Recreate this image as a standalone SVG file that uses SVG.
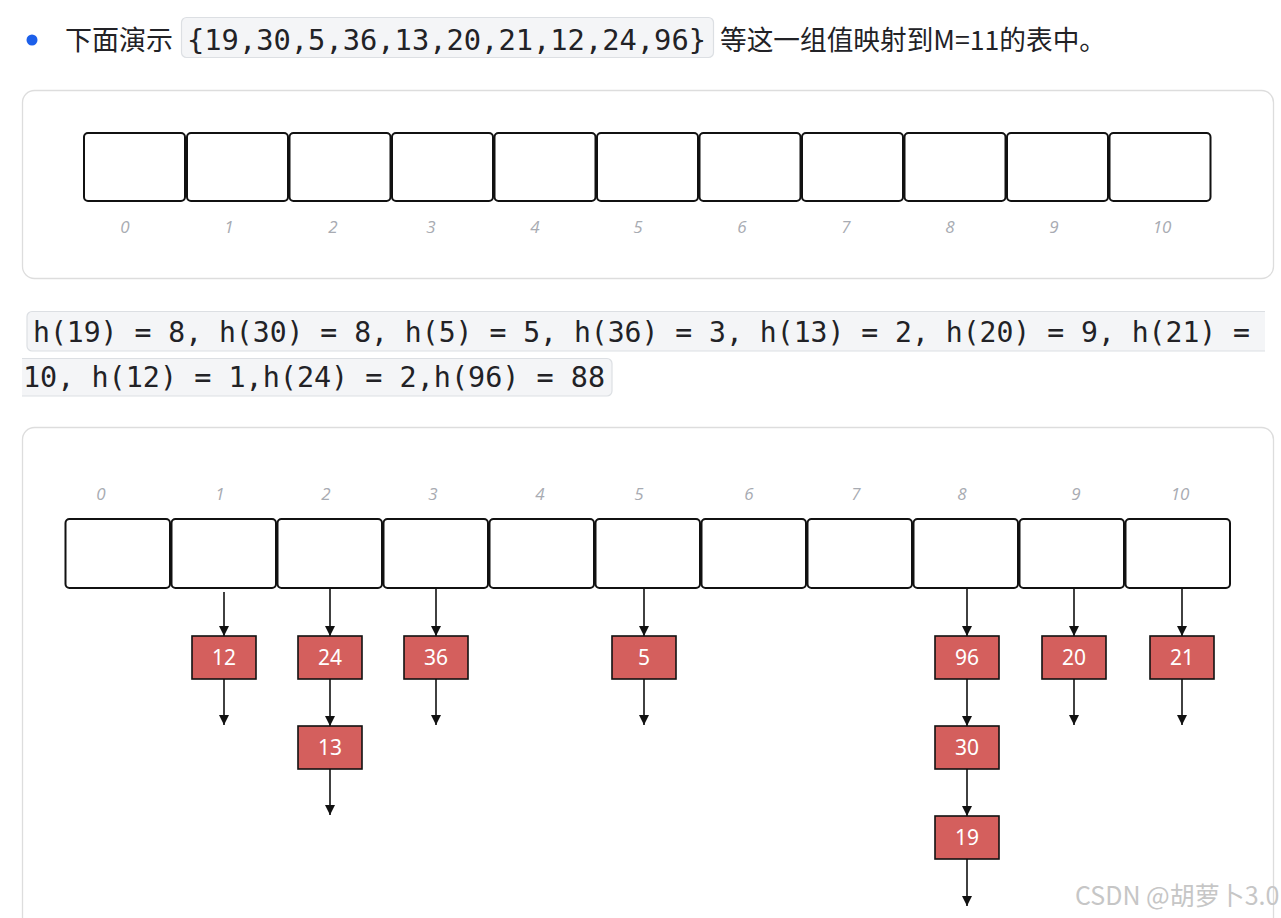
<svg xmlns="http://www.w3.org/2000/svg" width="1281" height="918" viewBox="0 0 1281 918">
<defs>
<style>
.cjk{font-family:"Noto Sans CJK SC","Noto Sans",sans-serif;font-size:27px;fill:#222226}
.mono{font-family:"DejaVu Sans Mono","Liberation Mono",monospace;font-size:28px;fill:#222226}
.codebg{fill:#f4f5f7;stroke:#dcdfe3;stroke-width:1.2}
.panel{fill:#ffffff;stroke:#dddddd;stroke-width:1.3}
.cell{fill:#ffffff;stroke:#111111;stroke-width:2}
.idx{font-family:"Open Sans","Noto Sans",sans-serif;font-style:italic;font-size:17px;fill:#a8abb2;text-anchor:middle}
.node{fill:#d45f5d;stroke:#111111;stroke-width:1.6}
.ntxt{font-family:"Noto Sans","Open Sans",sans-serif;font-size:21px;fill:#ffffff;text-anchor:middle}
.edge{stroke:#111111;stroke-width:1.6;fill:none;marker-end:url(#arr)}
.wm{font-family:"Noto Sans CJK SC","Noto Sans",sans-serif;font-size:25px;fill:#c6c6c6}
</style>
<marker id="arr" viewBox="0 0 10 10" refX="10" refY="5" markerWidth="10" markerHeight="10" markerUnits="userSpaceOnUse" orient="auto">
<path d="M0,0 L10,5 L0,10 Z" fill="#111111"/>
</marker>
</defs>
<rect width="1281" height="918" fill="#ffffff"/>

<g id="intro">
<circle cx="32" cy="40" r="5.5" fill="#1c5fea"/>
<text class="cjk" x="65" y="50">下面演示</text>
<rect class="codebg" x="181.5" y="17.5" width="532" height="40" rx="5"/>
<text class="mono" x="187" y="50" textLength="519" lengthAdjust="spacingAndGlyphs">{19,30,5,36,13,20,21,12,24,96}</text>
<text class="cjk" x="720" y="50" textLength="386" lengthAdjust="spacingAndGlyphs">等这一组值映射到M=11的表中。</text>
</g>

<g id="table1">
<rect class="panel" x="22.5" y="90.5" width="1251" height="188" rx="12"/>
<rect class="cell" x="84" y="133" width="101" height="68" rx="4"/>
<rect class="cell" x="187" y="133" width="101" height="68" rx="4"/>
<rect class="cell" x="289.5" y="133" width="101" height="68" rx="4"/>
<rect class="cell" x="392" y="133" width="101" height="68" rx="4"/>
<rect class="cell" x="494.5" y="133" width="101" height="68" rx="4"/>
<rect class="cell" x="597" y="133" width="101" height="68" rx="4"/>
<rect class="cell" x="699.5" y="133" width="101" height="68" rx="4"/>
<rect class="cell" x="802" y="133" width="101" height="68" rx="4"/>
<rect class="cell" x="904.5" y="133" width="101" height="68" rx="4"/>
<rect class="cell" x="1007" y="133" width="101" height="68" rx="4"/>
<rect class="cell" x="1109.5" y="133" width="101" height="68" rx="4"/>
<text class="idx" x="125" y="233">0</text>
<text class="idx" x="229" y="233">1</text>
<text class="idx" x="333" y="233">2</text>
<text class="idx" x="431" y="233">3</text>
<text class="idx" x="535" y="233">4</text>
<text class="idx" x="638" y="233">5</text>
<text class="idx" x="742" y="233">6</text>
<text class="idx" x="846" y="233">7</text>
<text class="idx" x="950" y="233">8</text>
<text class="idx" x="1054" y="233">9</text>
<text class="idx" x="1162" y="233">10</text>
</g>

<g id="hashes">
<path class="codebg" d="M1265,311.5 H32 a5,5 0 0 0 -5,5 V346 a5,5 0 0 0 5,5 H1265"/>
<text class="mono" x="33" y="342" textLength="1217" lengthAdjust="spacingAndGlyphs">h(19) = 8, h(30) = 8, h(5) = 5, h(36) = 3, h(13) = 2, h(20) = 9, h(21) =</text>
<path class="codebg" d="M22,358.5 H607 a5,5 0 0 1 5,5 V391 a5,5 0 0 1 -5,5 H22"/>
<text class="mono" x="23" y="387" textLength="582" lengthAdjust="spacingAndGlyphs">10, h(12) = 1,h(24) = 2,h(96) = 88</text>
</g>

<g id="table2">
<path class="panel" d="M22.5,930 V439.5 a12,12 0 0 1 12,-12 H1261.5 a12,12 0 0 1 12,12 V930"/>
<text class="idx" x="101" y="500">0</text>
<text class="idx" x="220" y="500">1</text>
<text class="idx" x="326" y="500">2</text>
<text class="idx" x="433" y="500">3</text>
<text class="idx" x="540" y="500">4</text>
<text class="idx" x="639" y="500">5</text>
<text class="idx" x="749" y="500">6</text>
<text class="idx" x="856" y="500">7</text>
<text class="idx" x="962" y="500">8</text>
<text class="idx" x="1076" y="500">9</text>
<text class="idx" x="1180" y="500">10</text>
<rect class="cell" x="65.5" y="519" width="104.5" height="69" rx="4"/>
<rect class="cell" x="171.5" y="519" width="104.5" height="69" rx="4"/>
<rect class="cell" x="277.5" y="519" width="104.5" height="69" rx="4"/>
<rect class="cell" x="383.5" y="519" width="104.5" height="69" rx="4"/>
<rect class="cell" x="489.5" y="519" width="104.5" height="69" rx="4"/>
<rect class="cell" x="595.5" y="519" width="104.5" height="69" rx="4"/>
<rect class="cell" x="701.5" y="519" width="104.5" height="69" rx="4"/>
<rect class="cell" x="807.5" y="519" width="104.5" height="69" rx="4"/>
<rect class="cell" x="913.5" y="519" width="104.5" height="69" rx="4"/>
<rect class="cell" x="1019.5" y="519" width="104.5" height="69" rx="4"/>
<rect class="cell" x="1125.5" y="519" width="104.5" height="69" rx="4"/>
</g>

<g id="connectors">
<line class="edge" x1="224" y1="592" x2="224" y2="636"/>
<line class="edge" x1="330" y1="588" x2="330" y2="636"/>
<line class="edge" x1="436" y1="588" x2="436" y2="636"/>
<line class="edge" x1="644" y1="588" x2="644" y2="636"/>
<line class="edge" x1="967" y1="588" x2="967" y2="636"/>
<line class="edge" x1="1074" y1="588" x2="1074" y2="636"/>
<line class="edge" x1="1182" y1="588" x2="1182" y2="636"/>
<line class="edge" x1="224" y1="679" x2="224" y2="725"/>
<line class="edge" x1="330" y1="679" x2="330" y2="726"/>
<line class="edge" x1="436" y1="679" x2="436" y2="725"/>
<line class="edge" x1="644" y1="679" x2="644" y2="725"/>
<line class="edge" x1="967" y1="679" x2="967" y2="726"/>
<line class="edge" x1="1074" y1="679" x2="1074" y2="725"/>
<line class="edge" x1="1182" y1="679" x2="1182" y2="725"/>
<line class="edge" x1="330" y1="769" x2="330" y2="815"/>
<line class="edge" x1="967" y1="769" x2="967" y2="816"/>
<line class="edge" x1="967" y1="859" x2="967" y2="906"/>
</g>

<g id="n12"><rect class="node" x="192" y="636" width="64" height="43"/><text class="ntxt" x="224" y="665">12</text></g>
<g id="n24"><rect class="node" x="298" y="636" width="64" height="43"/><text class="ntxt" x="330" y="665">24</text></g>
<g id="n36"><rect class="node" x="404" y="636" width="64" height="43"/><text class="ntxt" x="436" y="665">36</text></g>
<g id="n5"><rect class="node" x="612" y="636" width="64" height="43"/><text class="ntxt" x="644" y="665">5</text></g>
<g id="n96"><rect class="node" x="935" y="636" width="64" height="43"/><text class="ntxt" x="967" y="665">96</text></g>
<g id="n20"><rect class="node" x="1042" y="636" width="64" height="43"/><text class="ntxt" x="1074" y="665">20</text></g>
<g id="n21"><rect class="node" x="1150" y="636" width="64" height="43"/><text class="ntxt" x="1182" y="665">21</text></g>
<g id="n13"><rect class="node" x="298" y="726" width="64" height="43"/><text class="ntxt" x="330" y="755">13</text></g>
<g id="n30"><rect class="node" x="935" y="726" width="64" height="43"/><text class="ntxt" x="967" y="755">30</text></g>
<g id="n19"><rect class="node" x="935" y="816" width="64" height="43"/><text class="ntxt" x="967" y="845">19</text></g>

<g id="watermark">
<text class="wm" x="1075" y="905">CSDN @胡萝卜3.0</text>
</g>
</svg>
